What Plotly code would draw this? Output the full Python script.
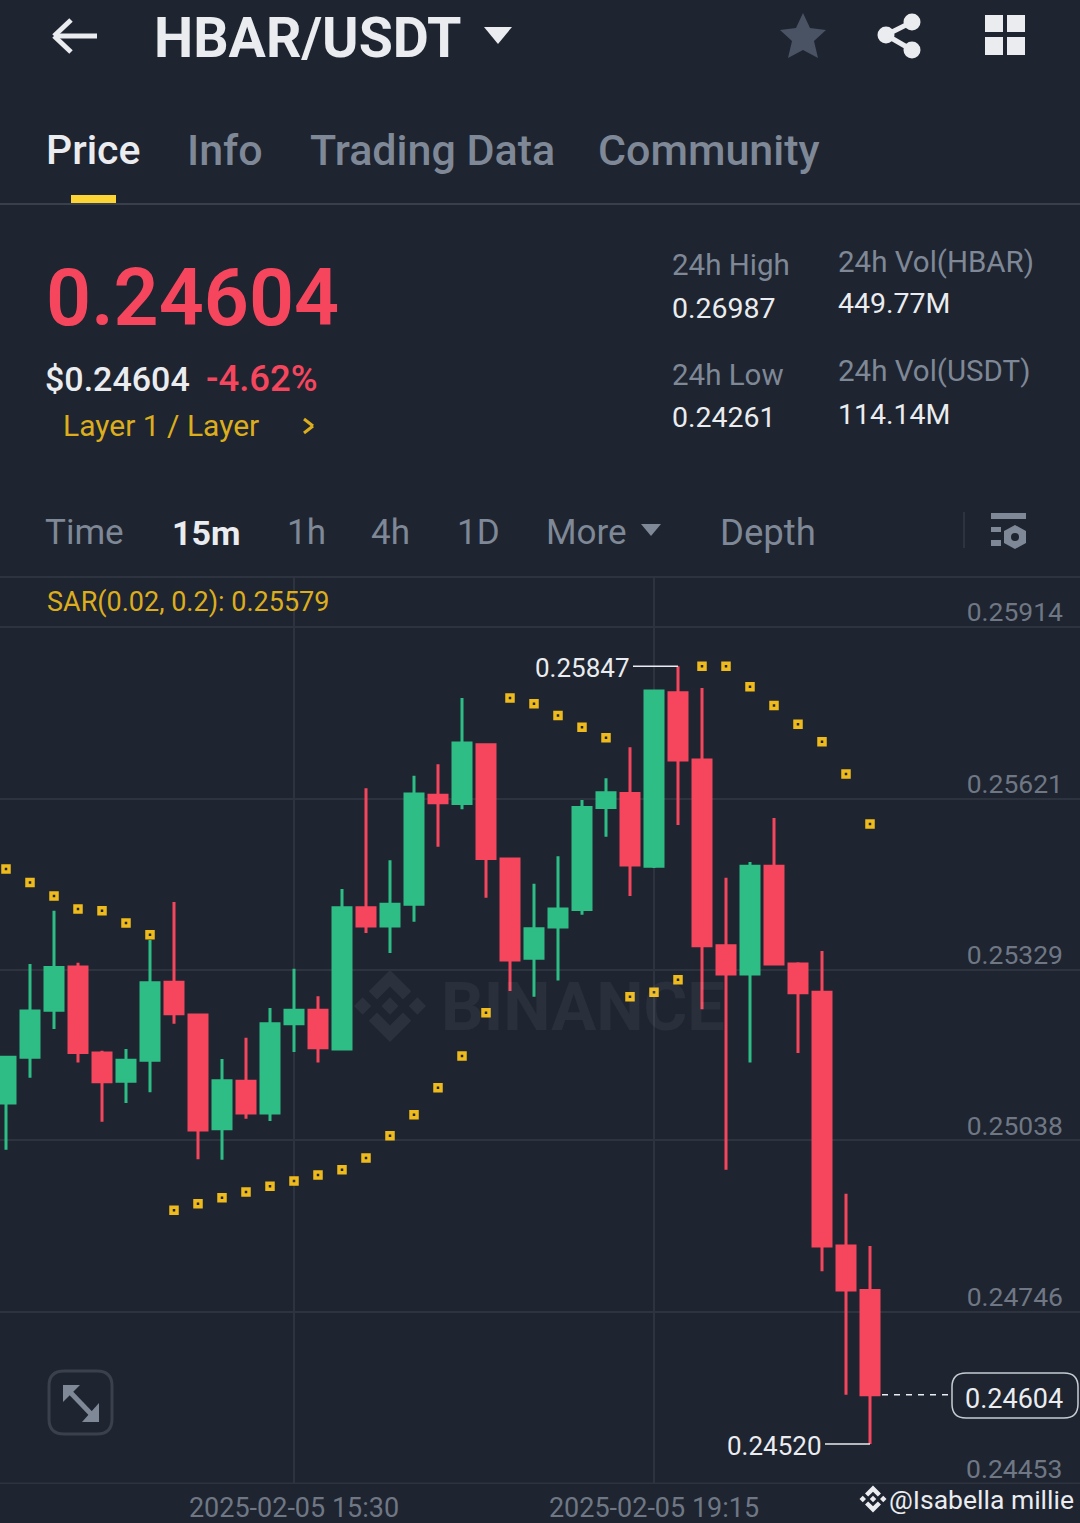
import pandas as pd
import plotly.graph_objects as go

# candles, 15 min apart
times = pd.date_range("2025-02-05 12:30", periods=37, freq="15min")
open_ = [0.25102, 0.25180, 0.25260, 0.25334, 0.25187, 0.25139, 0.25175, 0.25308, 0.25252, 0.25058,
         0.25139, 0.25085, 0.25237, 0.25260, 0.25194, 0.25435, 0.25404, 0.25441, 0.25627, 0.25613,
         0.25713, 0.25518, 0.25349, 0.25402, 0.25432, 0.25606, 0.25630, 0.25506, 0.25802, 0.25687,
         0.25370, 0.25322, 0.25506, 0.25339, 0.25291, 0.24858, 0.24782]
high = [0.25180, 0.25339, 0.25430, 0.25341, 0.25191, 0.25194, 0.25380, 0.25445, 0.25252, 0.25177,
        0.25213, 0.25264, 0.25331, 0.25284, 0.25467, 0.25639, 0.25516, 0.25660, 0.25680, 0.25793,
        0.25713, 0.25520, 0.25476, 0.25523, 0.25619, 0.25656, 0.25709, 0.25805, 0.25847, 0.25810,
        0.25486, 0.25513, 0.25588, 0.25342, 0.25361, 0.24947, 0.24858]
low = [0.25022, 0.25145, 0.25228, 0.25171, 0.25070, 0.25102, 0.25120, 0.25237, 0.25006, 0.25005,
       0.25075, 0.25071, 0.25189, 0.25171, 0.25194, 0.25392, 0.25358, 0.25411, 0.25539, 0.25603,
       0.25452, 0.25293, 0.25283, 0.25311, 0.25423, 0.25556, 0.25455, 0.25503, 0.25576, 0.25262,
       0.24988, 0.25171, 0.25339, 0.25187, 0.24815, 0.24604, 0.24520]
close = [0.25180, 0.25259, 0.25333, 0.25188, 0.25138, 0.25175, 0.25307, 0.25254, 0.25056, 0.25140,
         0.25085, 0.25237, 0.25260, 0.25196, 0.25435, 0.25404, 0.25441, 0.25629, 0.25614, 0.25716,
         0.25519, 0.25346, 0.25399, 0.25433, 0.25606, 0.25631, 0.25508, 0.25805, 0.25687, 0.25370,
         0.25322, 0.25506, 0.25339, 0.25290, 0.24858, 0.24783, 0.24604]
sar = [0.25501, 0.25478, 0.25455, 0.25433, 0.25430, 0.25409, 0.25389, 0.24919, 0.24930, 0.24940,
       0.24950, 0.24960, 0.24969, 0.24979, 0.24988, 0.25008, 0.25046, 0.25082, 0.25128, 0.25182,
       0.25256, 0.25793, 0.25783, 0.25763, 0.25743, 0.25725, 0.25283, 0.25291, 0.25312, 0.25847,
       0.25847, 0.25812, 0.25780, 0.25748, 0.25718, 0.25663, 0.25578]

price_ticks = [0.25914, 0.25621, 0.25329, 0.25038, 0.24746, 0.24453]
price_labels = ["0.25914", "0.25621", "0.25329", "0.25038", "0.24746", "0.24453"]
time_ticks = ["2025-02-05 15:30", "2025-02-05 19:15"]

BG = "#1e2430"
GRID = "#2e343f"
GREY = "#7f8896"
AXIS_TEXT = "#6f7784"
WHITE = "#eaecef"
RED = "#f6465d"
GREEN = "#2ebd85"
GOLD = "#efbb1c"
FONT = "Roboto"

W, H = 1080, 1523


def px(x):
    return x / W


def py(y):
    return 1 - y / H


def poly(points):
    parts = ["%.5f,%.5f" % (px(x), py(y)) for x, y in points]
    return "M" + " L".join(parts) + " Z"


def rounded(x0, y0, x1, y1, r):
    p = lambda x, y: "%.5f,%.5f" % (px(x), py(y))
    return ("M" + p(x0 + r, y0) + " L" + p(x1 - r, y0) + " Q" + p(x1, y0) + " " + p(x1, y0 + r)
            + " L" + p(x1, y1 - r) + " Q" + p(x1, y1) + " " + p(x1 - r, y1)
            + " L" + p(x0 + r, y1) + " Q" + p(x0, y1) + " " + p(x0, y1 - r)
            + " L" + p(x0, y0 + r) + " Q" + p(x0, y0) + " " + p(x0 + r, y0) + " Z")


shapes = []
notes = []


def rect(x0, y0, x1, y1, color, layer="above"):
    shapes.append(dict(type="rect", xref="paper", yref="paper", x0=px(x0), x1=px(x1), y0=py(y0), y1=py(y1),
                       fillcolor=color, line=dict(width=0), layer=layer))


def line(x0, y0, x1, y1, color, width=2):
    shapes.append(dict(type="line", xref="paper", yref="paper", x0=px(x0), x1=px(x1), y0=py(y0), y1=py(y1),
                       line=dict(color=color, width=width)))


def fill_path(path, color, layer="above", stroke=None, width=0):
    shapes.append(dict(type="path", xref="paper", yref="paper", path=path, fillcolor=color, layer=layer,
                       line=dict(color=stroke or color, width=width)))


def circle(cx, cy, r, color):
    shapes.append(dict(type="circle", xref="paper", yref="paper", x0=px(cx - r), x1=px(cx + r), y0=py(cy - r),
                       y1=py(cy + r), fillcolor=color, line=dict(width=0)))


def text(x, y, s, size, color, anchor="left", weight=400, family=FONT):
    # annotations sit about 2px inside their anchor
    if anchor == "left":
        x = x - 2
    notes.append(dict(xref="paper", yref="paper", x=px(x), y=py(y), text=s, showarrow=False, xanchor=anchor,
                      yanchor="middle", borderpad=0, font=dict(family=family, size=size, color=color, weight=weight)))


def logo(cx, cy, s, color, layer="above"):
    chevron = [(0, -1), (0.59, -0.41), (0.36, -0.18), (0, -0.54), (-0.36, -0.18), (-0.59, -0.41)]
    fill_path(poly([(cx + a * s, cy + b * s) for a, b in chevron]), color, layer)
    fill_path(poly([(cx + a * s, cy - b * s) for a, b in chevron]), color, layer)
    for off in (-0.76, 0, 0.76):
        d = [(off - 0.24, 0), (off, -0.24), (off + 0.24, 0), (off, 0.24)]
        fill_path(poly([(cx + a * s, cy + b * s) for a, b in d]), color, layer)


# header
line(54, 36, 97, 36, WHITE, 5)
line(71, 20, 54, 36, WHITE, 5)
line(71, 52, 54, 36, WHITE, 5)
text(155, 38, "HBAR/USDT", 55.5, WHITE, weight=700)
fill_path(poly([(484, 27), (512, 27), (498, 44)]), WHITE)
fill_path(poly([(803, 13), (810, 28), (826, 30), (814, 41), (818, 58), (803, 50), (788, 58), (792, 41), (780, 30), (796, 28)]),
          "#4a5363")
line(886, 35, 912, 22, WHITE, 5)
line(886, 35, 912, 50, WHITE, 5)
circle(886, 35, 8.5, WHITE)
circle(912, 22, 8.5, WHITE)
circle(912, 50, 8.5, WHITE)
rect(985, 15, 1003, 32, WHITE)
rect(1007, 15, 1025, 32, WHITE)
rect(985, 37, 1003, 55, WHITE)
rect(1007, 37, 1025, 55, WHITE)

# tabs
text(47, 149.5, "Price", 41, WHITE, weight=500)
text(188, 149.5, "Info", 43, GREY, weight=500)
text(311, 149.5, "Trading Data", 43, GREY, weight=500)
text(599, 149.5, "Community", 43, GREY, weight=500)
rect(71, 195, 116, 203, "#fcd535")
line(0, 204, W, 204, "#3a404b", 2)

# ticker block
text(47, 298, "0.24604", 79, RED, weight=600)
text(46, 379, "$0.24604", 34, WHITE, weight=500)
text(207, 379, "-4.62%", 36.5, RED, weight=500)
text(64, 426, "Layer 1 / Layer", 30, "#dcae1d")
line(304, 419, 313, 426, "#dcae1d", 3)
line(313, 426, 304, 433, "#dcae1d", 3)
text(673, 265, "24h High", 29.5, GREY)
text(673, 308, "0.26987", 28.5, WHITE)
text(839, 262, "24h Vol(HBAR)", 29.5, GREY)
text(839, 304, "449.77M", 28.5, WHITE)
text(673, 375, "24h Low", 29.5, GREY)
text(673, 418, "0.24261", 28.5, WHITE)
text(839, 371, "24h Vol(USDT)", 29.5, GREY)
text(839, 414, "114.14M", 28.5, WHITE)

# interval row
text(46, 533, "Time", 35, GREY)
text(173, 533, "15m", 34, WHITE, weight=700)
text(288, 533, "1h", 35, GREY)
text(372, 533, "4h", 35, GREY)
text(458, 533, "1D", 35, GREY)
text(547, 533, "More", 35, GREY)
fill_path(poly([(641, 524), (661, 524), (651, 536)]), GREY)
text(721, 533, "Depth", 36.5, GREY)
line(964, 512, 964, 548, GRID, 2)
rect(991, 513, 1026, 519, GREY)
rect(991, 527, 1001, 532, GREY)
rect(991, 540, 1001, 546, GREY)
fill_path(poly([(1015, 525), (1026, 531), (1026, 543), (1015, 549), (1004, 543), (1004, 531)]), GREY)
circle(1015, 537, 4, BG)
line(0, 577, W, 577, GRID, 2)

text(48, 602, "SAR(0.02, 0.2): 0.25579", 27, "#dcae1d")

# watermark behind the chart
logo(390, 1006, 36, "#2c323d", "below")
text(442, 1007, "BINANCE", 67, "rgba(255,255,255,0.055)", weight=700)

# high / low / last price markers
hi_idx = high.index(max(high))
lo_idx = low.index(min(low))
for idx, val, lab in [(hi_idx, high[hi_idx], "0.25847"), (lo_idx, low[lo_idx], "0.24520")]:
    shapes.append(dict(type="line", xref="x", yref="y", xsizemode="pixel", xanchor=times[idx], x0=-45, x1=0,
                       y0=val, y1=val, line=dict(color=WHITE, width=1.5)))
    notes.append(dict(xref="x", yref="y", x=times[idx], y=val, xshift=-46, yshift=-2, text=lab, showarrow=False,
                      xanchor="right", yanchor="middle", font=dict(family=FONT, size=26, color=WHITE)))
shapes.append(dict(type="line", xref="paper", yref="y", x0=px(882), x1=px(950), y0=close[-1], y1=close[-1],
                   line=dict(color=WHITE, width=1.5, dash="6px,6px")))
fill_path(rounded(952, 1373, 1078, 1418, 14), BG, stroke="#c8ccd2", width=1.5)
text(1014, 1399, "0.24604", 27, WHITE, anchor="center")

# lowest price level sits right on the axis edge, plotly drops its tick there
shapes.append(dict(type="line", xref="paper", yref="y", x0=0, x1=1, y0=price_ticks[-1], y1=price_ticks[-1],
                   line=dict(color=GRID, width=1.5), layer="below"))
notes.append(dict(xref="paper", yref="y", x=px(1064), y=price_ticks[-1], yshift=15, text=price_labels[-1],
                  showarrow=False, xanchor="right", yanchor="middle",
                  font=dict(family=FONT, size=26.5, color=AXIS_TEXT)))

# expand button
fill_path(rounded(49, 1371, 112, 1434, 15), "rgba(0,0,0,0)", stroke="#3a404c", width=3)
fill_path(poly([(63, 1385), (80, 1385), (63, 1402)]), GREY)
fill_path(poly([(99, 1422), (82, 1422), (99, 1403)]), GREY)
line(70, 1392, 92, 1415, GREY, 5)

# credit in the corner
logo(873, 1499, 13.5, WHITE)
text(890, 1499, "@Isabella millie", 26.5, WHITE)

fig = go.Figure()
fig.add_trace(go.Candlestick(
    x=times, open=open_, high=high, low=low, close=close,
    increasing=dict(line=dict(color=GREEN, width=3), fillcolor=GREEN),
    decreasing=dict(line=dict(color=RED, width=3), fillcolor=RED),
    whiskerwidth=0, hoverinfo="skip"))
fig.add_trace(go.Scatter(
    x=times, y=sar, mode="markers", hoverinfo="skip",
    marker=dict(symbol="square-open", size=6, color=GOLD, line=dict(color=GOLD, width=3.5))))

fig.update_layout(
    width=W, height=H, margin=dict(l=0, r=0, t=0, b=0, pad=0, autoexpand=False),
    paper_bgcolor=BG, plot_bgcolor="rgba(0,0,0,0)", showlegend=False, boxgap=0.25, boxgroupgap=0,
    font=dict(family=FONT),
    shapes=shapes, annotations=notes,
    xaxis=dict(type="date", domain=[0, 1], range=["2025-02-05 12:26:15", "2025-02-05 23:41:15"],
               rangeslider=dict(visible=False), tickmode="array", tickvals=time_ticks, ticktext=time_ticks,
               showgrid=True, gridcolor=GRID, gridwidth=1.5, zeroline=False, showline=False, automargin=False,
               ticks="", ticklabelstandoff=5, tickfont=dict(size=27, color=AXIS_TEXT), tickangle=0),
    yaxis=dict(domain=[1 - 1483.9 / H, 1 - 577 / H], range=[0.24452, 0.259993], side="right",
               tickmode="array", tickvals=price_ticks[:-1], ticktext=price_labels[:-1], automargin=False,
               ticklabelposition="inside", ticklabelstandoff=14, ticklabelshift=-15,
               showgrid=True, gridcolor=GRID, gridwidth=1.5, zeroline=False, showline=False, ticks="",
               tickfont=dict(size=26.5, color=AXIS_TEXT)),
)

fig.write_html("out.html", config=dict(displayModeBar=False),
               post_script="document.body.style.margin='0';document.body.style.overflow='hidden';")
